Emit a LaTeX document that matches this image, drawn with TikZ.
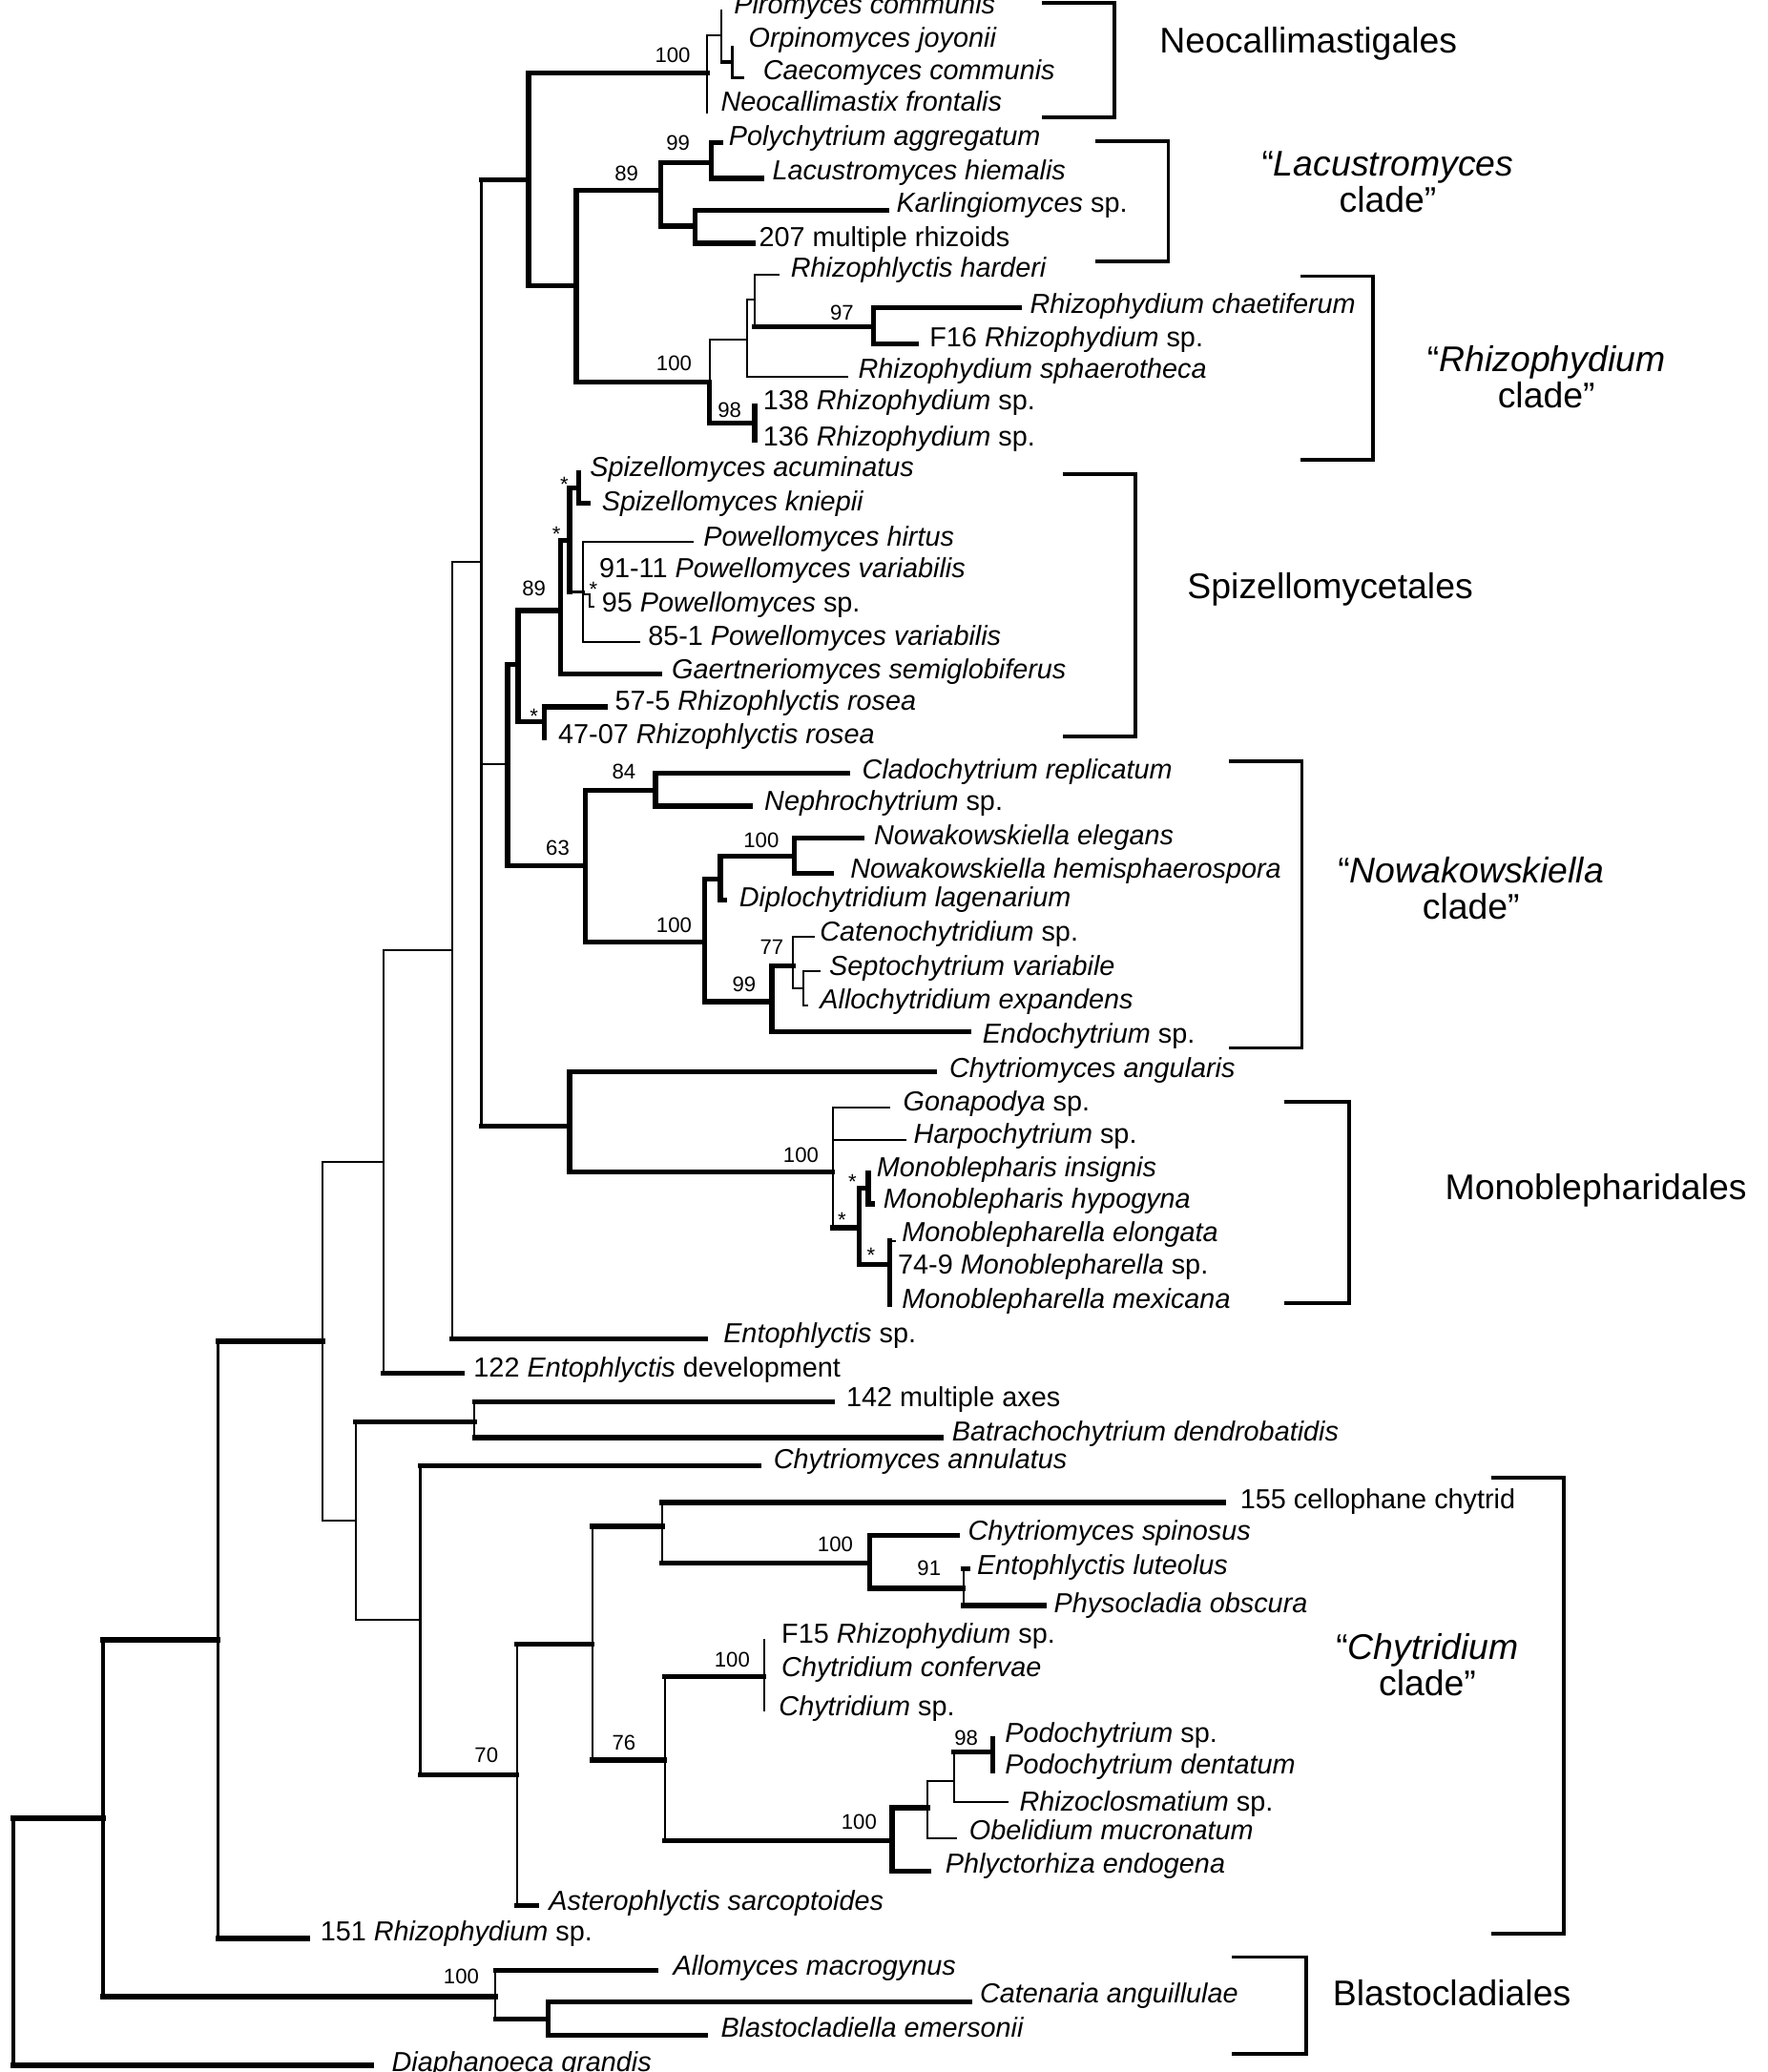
\documentclass[tikz,border=0pt]{standalone}
\usepackage{fontspec}
\setmainfont{Liberation Sans}
\newcommand{\leafnode}[6]{\coordinate (#1) at (#2,#3); \node[lab] (#1-l) at (#4,#5+7.4) {#6};}
\newcommand{\brh}[3]{\draw[#1] (#2 |- #3) -- (#3);}
\newcommand{\brv}[4]{\draw[#1] (#2 |- #3) -- (#2 |- #4);}
\begin{document}
\begin{tikzpicture}[x=0.5pt,y=-0.5pt,
 bk/.style={line width=1.9pt,line cap=rect},
 md/.style={line width=1.2pt,line cap=rect},
 tn/.style={line width=0.75pt,line cap=rect},
 lab/.style={anchor=base west,inner sep=0pt,font=\fontsize{10.4}{12}\selectfont},
 bs/.style={inner sep=0pt,font=\fontsize{8}{9.6}\selectfont},
 clade/.style={inner sep=0pt,font=\fontsize{13.5}{13.75}\selectfont},
 brk/.style={line width=1.4pt}]
\fill[white] (0,0) rectangle (1337,1568);
\useasboundingbox (0,0) rectangle (1337,1568);
% internal nodes
\coordinate (root) at (10,1469);
\coordinate (n75) at (78,1376);
\coordinate (nO) at (165,1241);
\coordinate (nF) at (244,1015);
\coordinate (nE) at (290,879);
\coordinate (nD) at (342,719);
\coordinate (nA) at (364,425);
\coordinate (nA2) at (364,715);
\coordinate (nB) at (400,136);
\coordinate (nNeo) at (535,55);
\coordinate (nNeoB) at (546,27);
\coordinate (nNeoC) at (554,47);
\coordinate (nC) at (436,216);
\coordinate (nL) at (500,144);
\coordinate (nL99) at (538,123);
\coordinate (nLk) at (526,171);
\coordinate (nR) at (537,289);
\coordinate (nRb) at (565,257);
\coordinate (nRc) at (571,227);
\coordinate (nR97) at (661,247);
\coordinate (nR98) at (571,320);
\coordinate (nSN) at (384,578);
\coordinate (nS1) at (392,503);
\coordinate (nS89) at (424,462);
\coordinate (nS2) at (431,409);
\coordinate (nSp) at (438,369);
\coordinate (nP) at (441,448);
\coordinate (nQ) at (446,450);
\coordinate (nRr) at (412,546);
\coordinate (nN63) at (443,655);
\coordinate (nN84) at (496,598);
\coordinate (nN100a) at (533,713);
\coordinate (nNb) at (545,665);
\coordinate (nN100b) at (601,648);
\coordinate (nN99) at (584,758);
\coordinate (nN77) at (600,731);
\coordinate (nSa) at (608,748);
\coordinate (nM) at (431,852);
\coordinate (nM100) at (630,887);
\coordinate (nMm) at (650,929);
\coordinate (nMi) at (657,899);
\coordinate (nMe) at (673,957);
\coordinate (nG) at (269,1151);
\coordinate (nH) at (359,1076);
\coordinate (nI) at (318,1226);
\coordinate (nJ) at (391,1343);
\coordinate (nK) at (448,1244);
\coordinate (nK1) at (501,1155);
\coordinate (nK100) at (658,1183);
\coordinate (nK91) at (729,1202);
\coordinate (nK76) at (503,1332);
\coordinate (nKc) at (578,1269);
\coordinate (nKp) at (675,1393);
\coordinate (nKq) at (702,1368);
\coordinate (nKr) at (722,1348);
\coordinate (nK98) at (751,1326);
\coordinate (nBl) at (375,1511);
\coordinate (nBc) at (415,1528);
% leaves
\leafnode{piro}{548}{8}{555}{3}{\textit{Piromyces communis}}
\leafnode{orpi}{554}{36}{566}{28}{\textit{Orpinomyces joyonii}}
\leafnode{caec}{562}{59}{577}{53}{\textit{Caecomyces communis}}
\leafnode{neoc}{535}{85}{545}{77}{\textit{Neocallimastix frontalis}}
\leafnode{poly}{545}{108}{551}{103}{\textit{Polychytrium aggregatum}}
\leafnode{lacu}{576}{135}{584}{129}{\textit{Lacustromyces hiemalis}}
\leafnode{karl}{671}{159}{678}{153}{\textit{Karlingiomyces} sp.}
\leafnode{r207}{570}{184}{574}{179}{207 multiple rhizoids}
\leafnode{harde}{589}{208}{598}{202}{\textit{Rhizophlyctis harderi}}
\leafnode{chae}{771}{233}{779}{230}{\textit{Rhizophydium chaetiferum}}
\leafnode{f16}{693}{260}{703}{255}{F16 \textit{Rhizophydium} sp.}
\leafnode{spha}{641}{285}{649}{279}{\textit{Rhizophydium sphaerotheca}}
\leafnode{r138}{571}{307}{577}{303}{138 \textit{Rhizophydium} sp.}
\leafnode{r136}{571}{333}{577}{330}{136 \textit{Rhizophydium} sp.}
\leafnode{acum}{438}{358}{446}{353}{\textit{Spizellomyces acuminatus}}
\leafnode{knie}{445}{381}{455}{379}{\textit{Spizellomyces kniepii}}
\leafnode{hirt}{524}{410}{532}{406}{\textit{Powellomyces hirtus}}
\leafnode{p9111}{441}{434}{453}{430}{91-11 \textit{Powellomyces variabilis}}
\leafnode{p95}{449}{459}{455}{456}{95 \textit{Powellomyces} sp.}
\leafnode{p851}{484}{486}{490}{481}{85-1 \textit{Powellomyces variabilis}}
\leafnode{gaer}{499}{510}{508}{506}{\textit{Gaertneriomyces semiglobiferus}}
\leafnode{r575}{458}{535}{465}{530}{57-5 \textit{Rhizophlyctis rosea}}
\leafnode{r4707}{412}{558}{422}{555}{47-07 \textit{Rhizophlyctis rosea}}
\leafnode{clad}{641}{585}{652}{582}{\textit{Cladochytrium replicatum}}
\leafnode{neph}{568}{610}{578}{606}{\textit{Nephrochytrium} sp.}
\leafnode{nowe}{652}{634}{661}{632}{\textit{Nowakowskiella elegans}}
\leafnode{nowh}{629}{661}{643}{657}{\textit{Nowakowskiella hemisphaerospora}}
\leafnode{dipl}{548}{681}{559}{679}{\textit{Diplochytridium lagenarium}}
\leafnode{cate}{616}{709}{620}{705}{\textit{Catenochytridium} sp.}
\leafnode{sept}{620}{735}{627}{731}{\textit{Septochytrium variabile}}
\leafnode{allo}{611}{761}{620}{756}{\textit{Allochytridium expandens}}
\leafnode{endo}{733}{781}{743}{782}{\textit{Endochytrium} sp.}
\leafnode{cang}{707}{811}{718}{808}{\textit{Chytriomyces angularis}}
\leafnode{gona}{673}{838}{683}{833}{\textit{Gonapodya} sp.}
\leafnode{harp}{685}{863}{691}{858}{\textit{Harpochytrium} sp.}
\leafnode{mins}{657}{888}{663}{883}{\textit{Monoblepharis insignis}}
\leafnode{mhyp}{660}{911}{668}{907}{\textit{Monoblepharis hypogyna}}
\leafnode{melo}{677}{939}{682}{932}{\textit{Monoblepharella elongata}}
\leafnode{m749}{673}{962}{679}{957}{74-9 \textit{Monoblepharella} sp.}
\leafnode{mmex}{673}{987}{682}{983}{\textit{Monoblepharella mexicana}}
\leafnode{ento}{534}{1013}{547}{1009}{\textit{Entophlyctis} sp.}
\leafnode{e122}{350}{1039}{358}{1035}{122 \textit{Entophlyctis} development}
\leafnode{a142}{630}{1061}{640}{1057}{142 multiple axes}
\leafnode{batr}{712}{1088}{720}{1083}{\textit{Batrachochytrium dendrobatidis}}
\leafnode{cann}{574}{1109}{585}{1104}{\textit{Chytriomyces annulatus}}
\leafnode{c155}{926}{1137}{938}{1134}{155 cellophane chytrid}
\leafnode{cspi}{724}{1162}{732}{1158}{\textit{Chytriomyces spinosus}}
\leafnode{elut}{732}{1187}{739}{1184}{\textit{Entophlyctis luteolus}}
\leafnode{phys}{790}{1215}{797}{1213}{\textit{Physocladia obscura}}
\leafnode{f15}{578}{1241}{591}{1236}{F15 \textit{Rhizophydium} sp.}
\leafnode{cconf}{578}{1266}{591}{1261}{\textit{Chytridium confervae}}
\leafnode{chsp}{578}{1294}{589}{1291}{\textit{Chytridium} sp.}
\leafnode{podo}{751}{1316}{760}{1311}{\textit{Podochytrium} sp.}
\leafnode{pden}{751}{1340}{760}{1335}{\textit{Podochytrium dentatum}}
\leafnode{rhcl}{762}{1364}{771}{1363}{\textit{Rhizoclosmatium} sp.}
\leafnode{obel}{723}{1391}{733}{1385}{\textit{Obelidium mucronatum}}
\leafnode{phly}{703}{1416}{715}{1410}{\textit{Phlyctorhiza endogena}}
\leafnode{aste}{406}{1442}{415}{1438}{\textit{Asterophlyctis sarcoptoides}}
\leafnode{r151}{233}{1467}{242}{1461}{151 \textit{Rhizophydium} sp.}
\leafnode{allm}{496}{1491}{509}{1487}{\textit{Allomyces macrogynus}}
\leafnode{catn}{734}{1515}{741}{1508}{\textit{Catenaria anguillulae}}
\leafnode{blas}{534}{1540}{545}{1534}{\textit{Blastocladiella emersonii}}
\leafnode{diap}{281}{1563}{296}{1560}{\textit{Diaphanoeca grandis}}
% verticals
\brv{md}{root}{n75}{diap}
\brv{md}{n75}{nO}{nBl}
\brv{md}{nO}{nF}{r151}
\brv{tn}{nF}{nE}{nG}
\brv{tn}{nE}{nD}{e122}
\brv{tn}{nD}{nA}{ento}
\brv{md}{nA}{nB}{nM}
\brv{bk}{nB}{nNeo}{nC}
\brv{tn}{nNeo}{nNeoB}{neoc}
\brv{tn}{nNeoB}{piro}{nNeoC}
\brv{md}{nNeoC}{orpi}{caec}
\brv{bk}{nC}{nL}{nR}
\brv{bk}{nL}{nL99}{nLk}
\brv{bk}{nL99}{poly}{lacu}
\brv{bk}{nLk}{karl}{r207}
\brv{tn}{nR}{nRb}{nR}
\brv{bk}{nR}{nR}{nR98}
\brv{tn}{nRb}{nRc}{spha}
\brv{tn}{nRc}{harde}{nR97}
\brv{bk}{nR97}{chae}{f16}
\brv{bk}{nR98}{r138}{r136}
\brv{bk}{nSN}{nS1}{nN63}
\brv{bk}{nS1}{nS89}{nRr}
\brv{bk}{nS89}{nS2}{gaer}
\brv{bk}{nS2}{nSp}{nP}
\brv{bk}{nSp}{acum}{knie}
\brv{tn}{nP}{hirt}{p851}
\brv{tn}{nQ}{nQ}{p95}
\brv{bk}{nRr}{r575}{r4707}
\brv{bk}{nN63}{nN84}{nN100a}
\brv{bk}{nN84}{clad}{neph}
\brv{bk}{nN100a}{nNb}{nN99}
\brv{bk}{nNb}{nN100b}{dipl}
\brv{bk}{nN100b}{nowe}{nowh}
\brv{bk}{nN99}{nN77}{endo}
\brv{tn}{nN77}{cate}{nSa}
\brv{tn}{nSa}{sept}{allo}
\brv{bk}{nM}{cang}{nM100}
\brv{tn}{nM100}{gona}{nMm}
\brv{bk}{nMm}{nMi}{nMe}
\brv{bk}{nMi}{mins}{mhyp}
\brv{bk}{nMe}{melo}{mmex}
\brv{tn}{nG}{nH}{nI}
\brv{tn}{nH}{a142}{batr}
\brv{tn}{nI}{cann}{nJ}
\brv{tn}{nJ}{nK}{aste}
\brv{tn}{nK}{nK1}{nK76}
\brv{tn}{nK1}{c155}{nK100}
\brv{bk}{nK100}{cspi}{nK91}
\brv{tn}{nK91}{elut}{phys}
\brv{tn}{nK76}{nKc}{nKp}
\brv{tn}{nKc}{f15}{chsp}
\brv{bk}{nKp}{nKq}{phly}
\brv{tn}{nKq}{nKr}{obel}
\brv{tn}{nKr}{nK98}{rhcl}
\brv{bk}{nK98}{podo}{pden}
\brv{tn}{nBl}{allm}{nBc}
\brv{bk}{nBc}{catn}{blas}
% horizontals
\brh{bk}{root}{n75} \brh{bk}{root}{diap}
\brh{bk}{n75}{nO} \brh{bk}{n75}{nBl}
\brh{bk}{nO}{nF} \brh{bk}{nO}{r151}
\brh{tn}{nF}{nE} \brh{tn}{nF}{nG}
\brh{tn}{nE}{nD} \brh{bk}{nE}{e122}
\brh{tn}{nD}{nA} \brh{bk}{nD}{ento}
\brh{bk}{nA}{nB}
\brh{tn}{nA2}{nSN} \brh{bk}{nA2}{nM}
\brh{bk}{nB}{nNeo} \brh{bk}{nB}{nC}
\brh{tn}{nNeo}{nNeoB}
\brh{md}{nNeoB}{nNeoC}
\brh{md}{nNeoC}{caec}
\brh{bk}{nC}{nL} \brh{bk}{nC}{nR}
\brh{bk}{nL}{nL99} \brh{bk}{nL}{nLk}
\brh{bk}{nL99}{poly} \brh{bk}{nL99}{lacu}
\brh{bk}{nLk}{karl} \brh{bk}{nLk}{r207}
\brh{tn}{nR}{nRb} \brh{bk}{nR}{nR98}
\brh{tn}{nRb}{nRc} \brh{tn}{nRb}{spha}
\brh{tn}{nRc}{harde} \brh{bk}{nRc}{nR97}
\brh{bk}{nR97}{chae} \brh{bk}{nR97}{f16}
\brh{bk}{nSN}{nS1} \brh{bk}{nSN}{nN63}
\brh{bk}{nS1}{nS89} \brh{bk}{nS1}{nRr}
\brh{bk}{nS89}{nS2} \brh{bk}{nS89}{gaer}
\brh{bk}{nS2}{nSp} \brh{md}{nS2}{nP}
\brh{bk}{nSp}{knie}
\brh{tn}{nP}{hirt} \brh{tn}{nP}{nQ} \brh{tn}{nP}{p851}
\brh{tn}{nQ}{p95}
\brh{bk}{nRr}{r575}
\brh{bk}{nN63}{nN84} \brh{bk}{nN63}{nN100a}
\brh{bk}{nN84}{clad} \brh{bk}{nN84}{neph}
\brh{bk}{nN100a}{nNb} \brh{bk}{nN100a}{nN99}
\brh{bk}{nNb}{nN100b} \brh{bk}{nNb}{dipl}
\brh{bk}{nN100b}{nowe} \brh{bk}{nN100b}{nowh}
\brh{bk}{nN99}{nN77} \brh{bk}{nN99}{endo}
\brh{tn}{nN77}{cate} \brh{tn}{nN77}{nSa}
\brh{tn}{nSa}{sept} \brh{tn}{nSa}{allo}
\brh{bk}{nM}{cang} \brh{bk}{nM}{nM100}
\brh{tn}{nM100}{gona} \brh{tn}{nM100}{harp} \brh{bk}{nM100}{nMm}
\brh{bk}{nMm}{nMi} \brh{bk}{nMm}{nMe}
\brh{bk}{nMi}{mhyp}
\brh{tn}{nMe}{melo}
\brh{bk}{nG}{nH} \brh{tn}{nG}{nI}
\brh{bk}{nH}{a142} \brh{bk}{nH}{batr}
\brh{bk}{nI}{cann} \brh{bk}{nI}{nJ}
\brh{bk}{nJ}{nK} \brh{bk}{nJ}{aste}
\brh{bk}{nK}{nK1} \brh{bk}{nK}{nK76}
\brh{bk}{nK1}{c155} \brh{bk}{nK1}{nK100}
\brh{bk}{nK100}{cspi} \brh{bk}{nK100}{nK91}
\brh{bk}{nK91}{elut} \brh{bk}{nK91}{phys}
\brh{bk}{nK76}{nKc} \brh{bk}{nK76}{nKp}
\brh{bk}{nKp}{nKq} \brh{bk}{nKp}{phly}
\brh{tn}{nKq}{nKr} \brh{tn}{nKq}{obel}
\brh{bk}{nKr}{nK98} \brh{tn}{nKr}{rhcl}
\brh{bk}{nBl}{allm} \brh{bk}{nBl}{nBc}
\brh{bk}{nBc}{catn} \brh{bk}{nBc}{blas}
% support values
\node[bs] (b1) at (509,42) {100};
\node[bs] (b2) at (513,108) {99};
\node[bs] (b3) at (474,131) {89};
\node[bs] (b4) at (637,237) {97};
\node[bs] (b5) at (510,275) {100};
\node[bs] (b6) at (552,310) {98};
\node[bs] (b7) at (404,445) {89};
\node[bs] (b8) at (472,584) {84};
\node[bs] (b9) at (422,642) {63};
\node[bs] (b10) at (576,636) {100};
\node[bs] (b11) at (510,700) {100};
\node[bs] (b12) at (584,717) {77};
\node[bs] (b13) at (563,745) {99};
\node[bs] (b14) at (606,874) {100};
\node[bs] (b15) at (632,1169) {100};
\node[bs] (b16) at (703,1187) {91};
\node[bs] (b17) at (554,1256) {100};
\node[bs] (b18) at (472,1319) {76};
\node[bs] (b19) at (368,1328) {70};
\node[bs] (b20) at (731,1315) {98};
\node[bs] (b21) at (650,1379) {100};
\node[bs] (b22) at (349,1496) {100};
\node[bs] (s1) at (427,367) {*};
\node[bs] (s2) at (421,404) {*};
\node[bs] (s3) at (449,446) {*};
\node[bs] (s4) at (404,542) {*};
\node[bs] (s5) at (645,894) {*};
\node[bs] (s6) at (637,923) {*};
\node[bs] (s7) at (659,950) {*};
% clade brackets
\draw[brk] (788,2) -- (843,2) -- (843,89) -- (788,89);
\draw[brk] (829,107) -- (884,107) -- (884,198) -- (829,198);
\draw[brk] (984,209) -- (1039,209) -- (1039,348) -- (984,348);
\draw[brk] (804,359) -- (859,359) -- (859,557) -- (804,557);
\draw[brk] (930,576) -- (985,576) -- (985,793) -- (930,793);
\draw[brk] (972,834) -- (1021,834) -- (1021,986) -- (972,986);
\draw[brk] (1128,1118) -- (1183,1118) -- (1183,1463) -- (1128,1463);
\draw[brk] (932,1481) -- (988,1481) -- (988,1554) -- (932,1554);
% clade names
\node[clade,anchor=base west] (cNeo) at (877,40) {Neocallimastigales};
\node[clade,align=center] (cLac) at (1050,138) {“\textit{Lacustromyces}\\clade”};
\node[clade,align=center] (cRhi) at (1170,285) {“\textit{Rhizophydium}\\clade”};
\node[clade,anchor=base west] (cSpi) at (898,453) {Spizellomycetales};
\node[clade,align=center] (cNow) at (1113,672) {“\textit{Nowakowskiella}\\clade”};
\node[clade,anchor=base west] (cMon) at (1093,908) {Monoblepharidales};
\node[clade,align=center] (cChy) at (1080,1260) {“\textit{Chytridium}\\clade”};
\node[clade,anchor=base west] (cBla) at (1008,1518) {Blastocladiales};
\end{tikzpicture}
\end{document}
